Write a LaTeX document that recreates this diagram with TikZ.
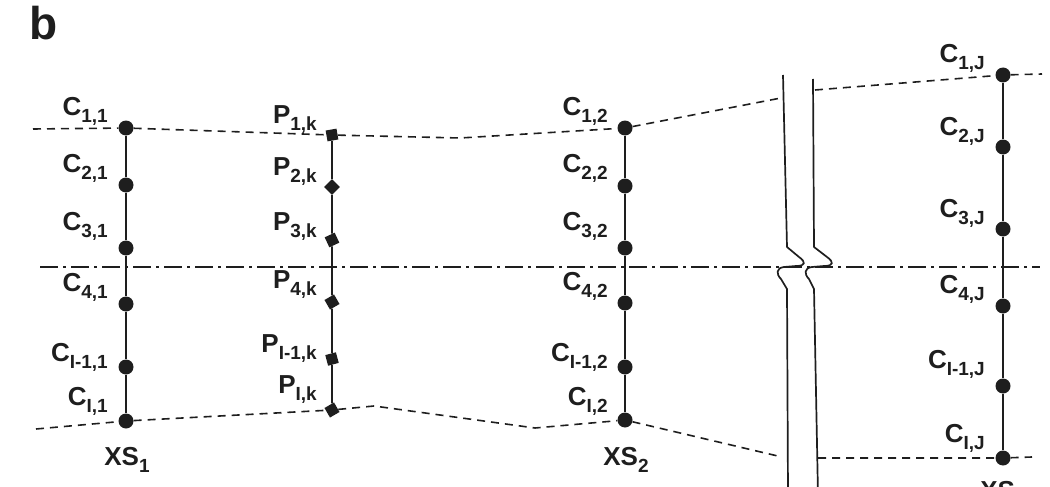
\documentclass[tikz,border=0pt]{standalone}
\usepackage{fontspec}
\setmainfont{Liberation Sans}
\usetikzlibrary{shapes.geometric}
\definecolor{ink1}{HTML}{1E1E1E}
\newcommand{\ix}[1]{\raisebox{-7pt}{\fontsize{19}{20}\selectfont #1}}
\tikzset{
  dot/.style={circle, fill=ink1, inner sep=0pt, minimum size=15pt},
  pmark/.style={rectangle, fill=ink1, inner sep=0pt, minimum size=11pt},
  lab/.style={font=\fontsize{26}{28}\selectfont\bfseries, text=ink1, inner sep=0pt, anchor=base east},
  xslab/.style={font=\fontsize{26}{28}\selectfont\bfseries, text=ink1, inner sep=0pt, anchor=base},
  secline/.style={line width=1.7pt, ink1},
  dashline/.style={line width=1.6pt, ink1, dash pattern=on 8pt off 6pt},
  axisline/.style={line width=1.5pt, ink1, dash pattern=on 18pt off 5pt on 3pt off 5pt},
  brkline/.style={line width=1.7pt, ink1, line join=round}
}

\begin{document}
\begin{tikzpicture}[x=1pt,y=-1pt]

\useasboundingbox (0,0) rectangle (1050,487);

\node[font=\fontsize{46}{48}\selectfont\bfseries, text=ink1, inner sep=0pt, anchor=base west] (panel) at (29,40) {b};

% cross section 1
\node[dot] (c11) at (126,128) {};
\node[dot] (c21) at (126,185) {};
\node[dot] (c31) at (126,248) {};
\node[dot] (c41) at (126,304) {};
\node[dot] (cm1) at (126,367) {};
\node[dot] (cn1) at (126,421) {};

\node[lab] (lc11) at (108,115) {C\ix{1,1}};
\node[lab] (lc21) at (108,172) {C\ix{2,1}};
\node[lab] (lc31) at (108,230) {C\ix{3,1}};
\node[lab] (lc41) at (108,291) {C\ix{4,1}};
\node[lab] (lcm1) at (108,361) {C\ix{I-1,1}};
\node[lab] (lcn1) at (108,405) {C\ix{I,1}};
\node[xslab] (xs1) at (127,465) {XS\ix{1}};

% interpolated points
\node[pmark, rotate=10] (p1k) at (332,135) {};
\node[pmark, rotate=45] (p2k) at (332,187) {};
\node[pmark, rotate=25] (p3k) at (332,240) {};
\node[pmark, rotate=30] (p4k) at (332,302) {};
\node[pmark, rotate=15] (pmk) at (332,359) {};
\node[pmark, rotate=30] (pnk) at (332,410) {};

\node[lab] (lp1k) at (317,123) {P\ix{1,k}};
\node[lab] (lp2k) at (317,175) {P\ix{2,k}};
\node[lab] (lp3k) at (317,230) {P\ix{3,k}};
\node[lab] (lp4k) at (317,288) {P\ix{4,k}};
\node[lab] (lpmk) at (317,352) {P\ix{I-1,k}};
\node[lab] (lpnk) at (317,393) {P\ix{I,k}};

% cross section 2
\node[dot] (c12) at (625,128) {};
\node[dot] (c22) at (625,186) {};
\node[dot] (c32) at (625,248) {};
\node[dot] (c42) at (625,303) {};
\node[dot] (cm2) at (625,367) {};
\node[dot] (cn2) at (625,420) {};

\node[lab] (lc12) at (608,115) {C\ix{1,2}};
\node[lab] (lc22) at (608,172) {C\ix{2,2}};
\node[lab] (lc32) at (608,230) {C\ix{3,2}};
\node[lab] (lc42) at (608,290) {C\ix{4,2}};
\node[lab] (lcm2) at (608,361) {C\ix{I-1,2}};
\node[lab] (lcn2) at (608,405) {C\ix{I,2}};
\node[xslab] (xs2) at (626,465) {XS\ix{2}};

% cross section J
\node[dot] (c1J) at (1003,75) {};
\node[dot] (c2J) at (1003,147) {};
\node[dot] (c3J) at (1003,229) {};
\node[dot] (c4J) at (1003,306) {};
\node[dot] (cmJ) at (1003,386) {};
\node[dot] (cnJ) at (1003,458) {};

\node[lab] (lc1J) at (985,63) {C\ix{1,J}};
\node[lab] (lc2J) at (985,135) {C\ix{2,J}};
\node[lab] (lc3J) at (985,217) {C\ix{3,J}};
\node[lab] (lc4J) at (985,293) {C\ix{4,J}};
\node[lab] (lcmJ) at (985,368) {C\ix{I-1,J}};
\node[lab] (lcnJ) at (985,442) {C\ix{I,J}};
\node[xslab] (xsJ) at (1003,499) {XS\ix{J}};

% section lines
\draw[secline] (c11) -- (c21) -- (c31) -- (c41) -- (cm1) -- (cn1);
\draw[secline] (p1k) -- (p2k) -- (p3k) -- (p4k) -- (pmk) -- (pnk);
\draw[secline] (c12) -- (c22) -- (c32) -- (c42) -- (cm2) -- (cn2);
\draw[secline] (c1J) -- (c2J) -- (c3J) -- (c4J) -- (cmJ) -- (cnJ);

% banks
\coordinate (t0) at (33,129);
\coordinate (t1) at (460,138);
\coordinate (t2) at (781,98);
\coordinate (t3) at (815,90);
\coordinate (t4) at (1042,74);
\coordinate (u0) at (36,429);
\coordinate (u1) at (374,406);
\coordinate (u2) at (535,428);
\coordinate (u3) at (782,457);
\coordinate (u4) at (818,458);
\coordinate (u5) at (1032,457);

\draw[dashline] (t0) -- (c11) -- (p1k) -- (t1) -- (c12) -- (t2);
\draw[dashline] (t3) -- (c1J) -- (t4);
\draw[dashline] (u0) -- (cn1) -- (pnk) -- (u1) -- (u2) -- (cn2) -- (u3);
\draw[dashline] (u4) -- (cnJ) -- (u5);

% centre line
\coordinate (a0) at (40,267);
\coordinate (a1) at (1040,267);
\draw[axisline] (a0) -- (a1);

% break
\draw[brkline] (783,75) -- (787,247) -- (799,257) .. controls (806,262) and (806,266) .. (796,266) -- (784,267) .. controls (776,268) and (776,274) .. (781,279) -- (787,289) -- (788,495);
\draw[brkline] (813,79) -- (814,247) -- (827,257) .. controls (834,262) and (834,266) .. (824,266) -- (812,267) .. controls (804,268) and (804,274) .. (809,279) -- (814,289) -- (818,495);

\end{tikzpicture}
\end{document}
